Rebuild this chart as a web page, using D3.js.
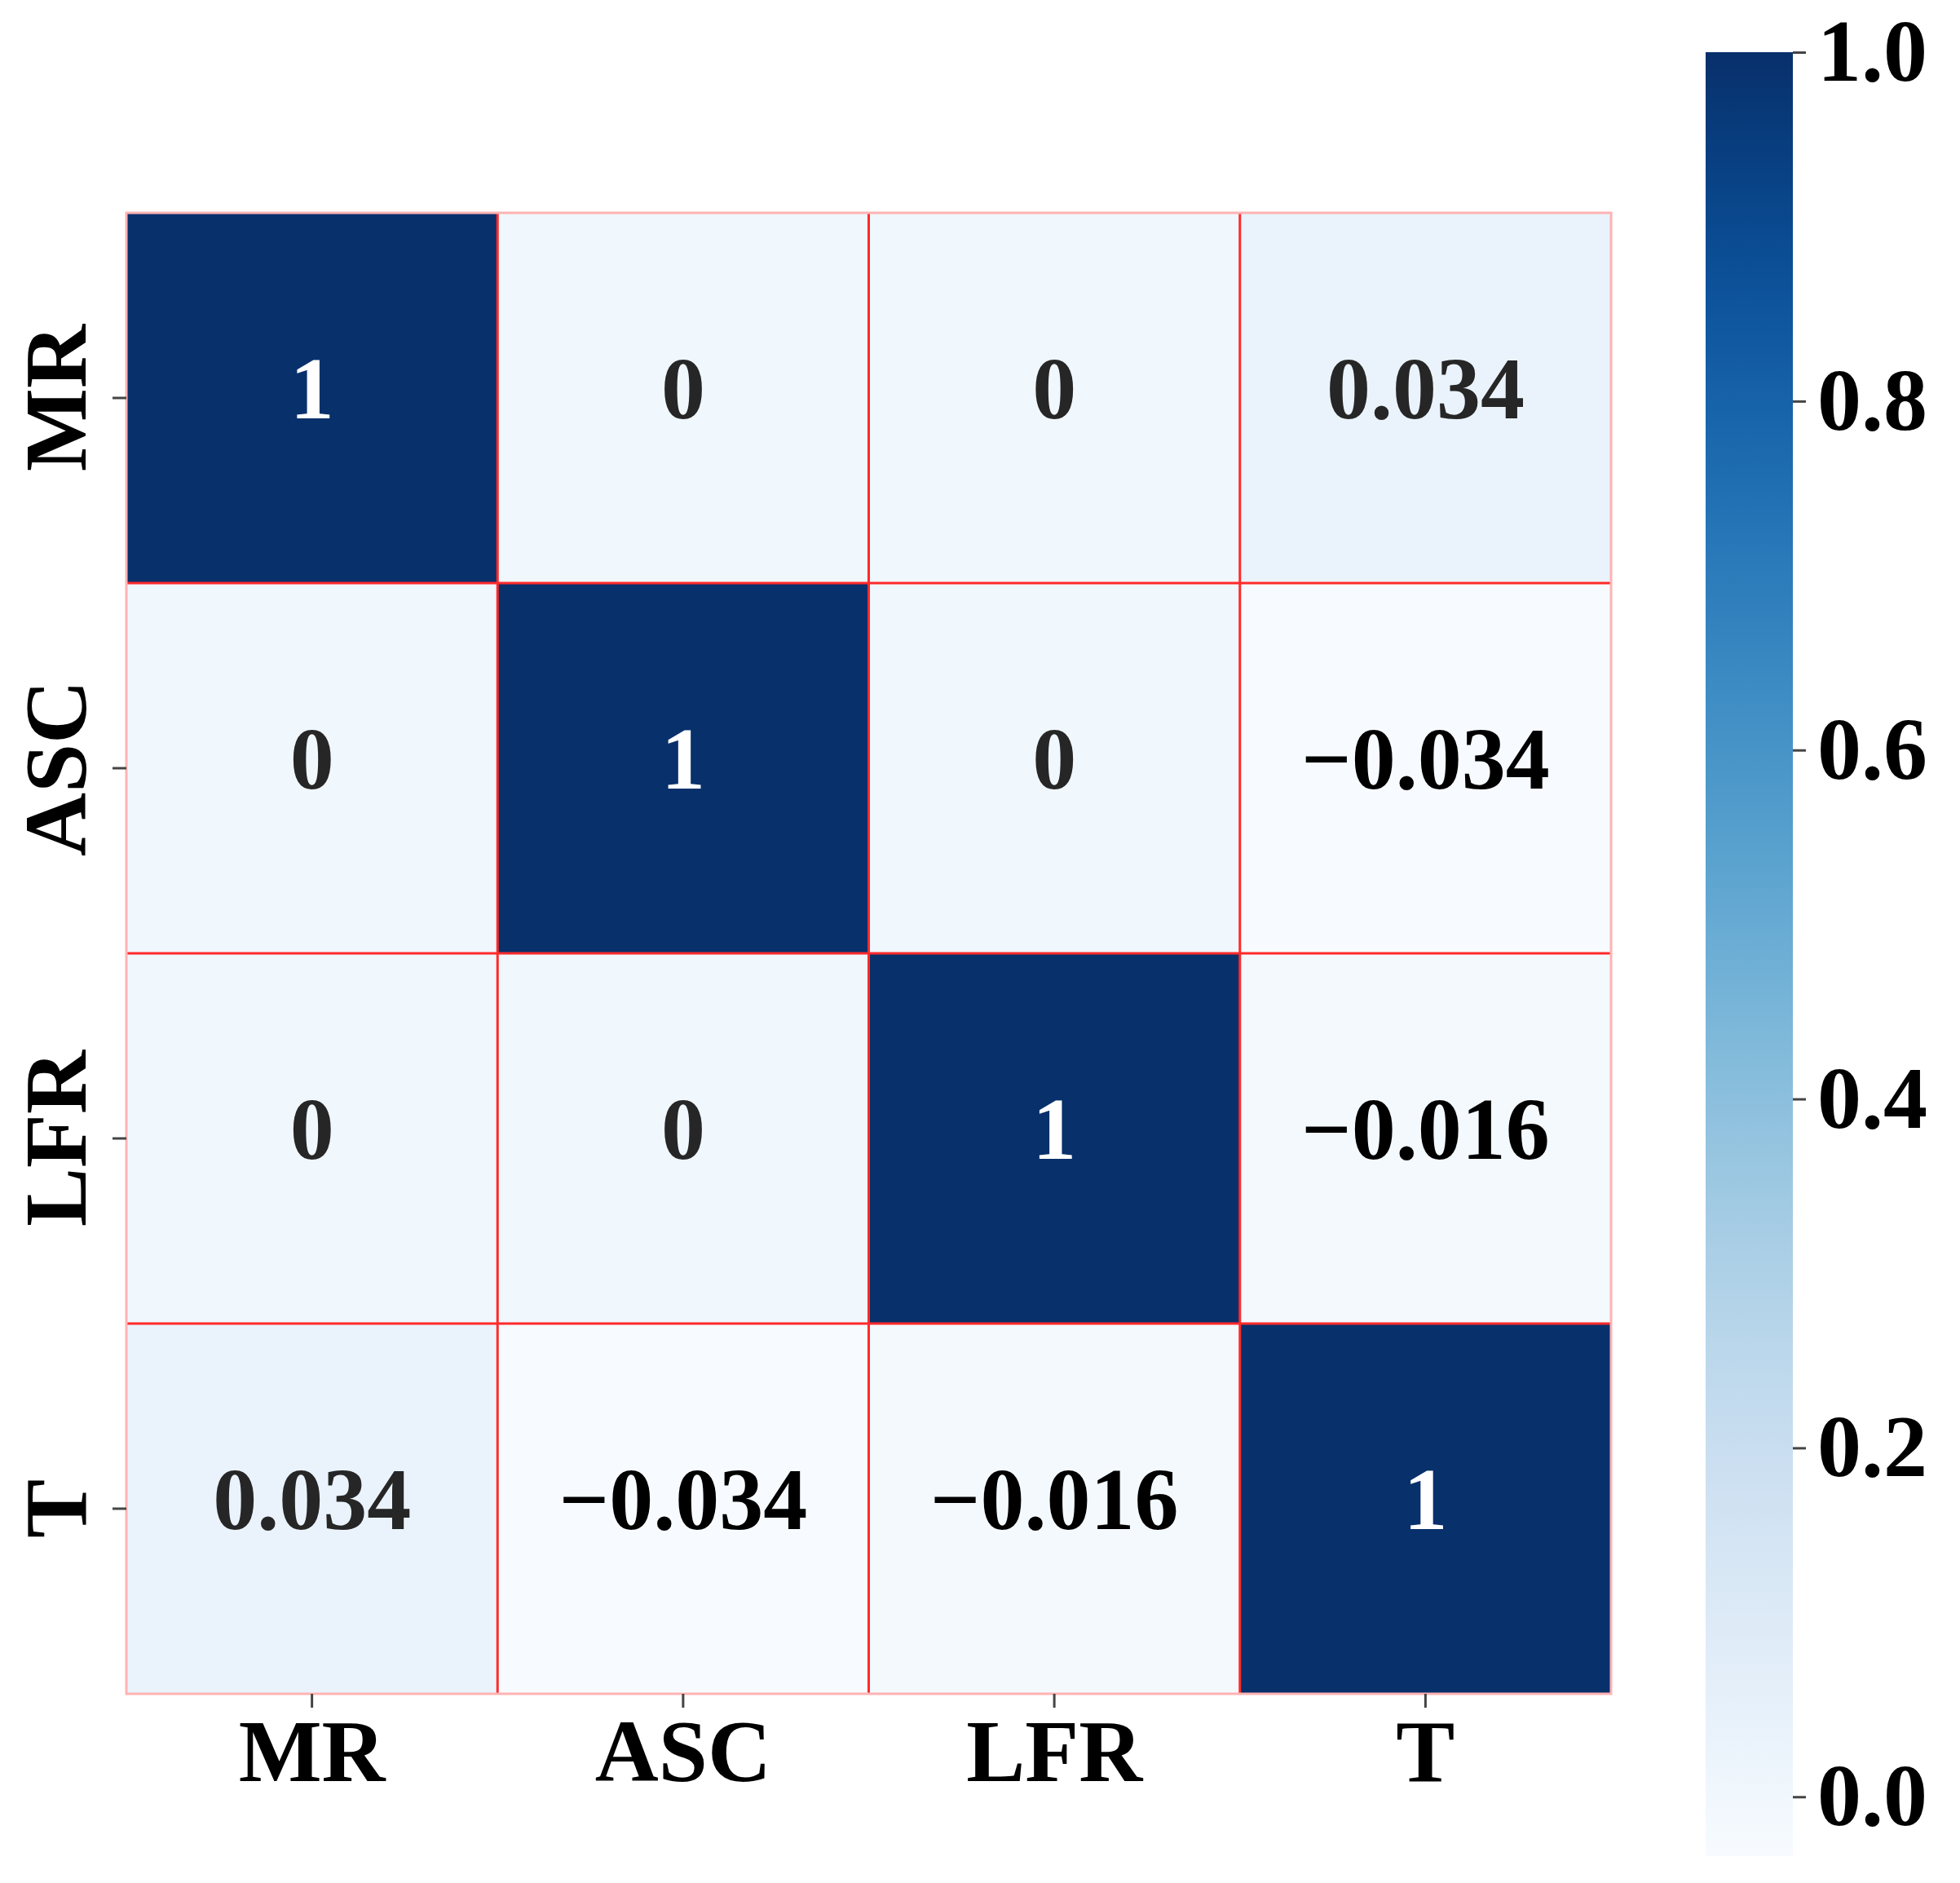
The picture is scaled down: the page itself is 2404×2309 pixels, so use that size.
<!DOCTYPE html>
<html>
<head>
<meta charset="utf-8">
<script src="https://cdn.jsdelivr.net/npm/d3@7/dist/d3.min.js"></script>
<style>
  html, body { margin: 0; padding: 0; background: #ffffff; }
  svg { display: block; }
  text { font-family: "Liberation Serif", "Times New Roman", serif; font-weight: bold; }
</style>
</head>
<body>
<svg id="chart" width="2404" height="2309"></svg>
<script>
// ---- data ----
const categories = ["MR", "ASC", "LFR", "T"];
const matrixValues = [
  [1, 0, 0, 0.034],
  [0, 1, 0, -0.034],
  [0, 0, 1, -0.016],
  [0.034, -0.034, -0.016, 1]
];
const annotationLabels = [
  ["1", "0", "0", "0.034"],
  ["0", "1", "0", "\u22120.034"],
  ["0", "0", "1", "\u22120.016"],
  ["0.034", "\u22120.034", "\u22120.016", "1"]
];
const colorDomain = [-0.034, 1];
const colorbarTicks = [0.0, 0.2, 0.4, 0.6, 0.8, 1.0];

// ---- layout ----
const grid = { left: 155, right: 1976, top: 261, bottom: 2077 };
const cbar = { left: 2092, right: 2199, top: 64, bottom: 2276 };
const fontSize = 108;

const svg = d3.select("#chart");

const x = d3.scaleBand().domain(categories).range([grid.left, grid.right]);
const y = d3.scaleBand().domain(categories).range([grid.top, grid.bottom]);
const color = d3.scaleSequential(d3.interpolateBlues).domain(colorDomain);

const cells = [];
matrixValues.forEach((row, i) => row.forEach((v, j) => {
  cells.push({ r: categories[i], c: categories[j], v: v, label: annotationLabels[i][j] });
}));

// cells
svg.append("g").selectAll("rect").data(cells).join("rect")
  .attr("x", d => x(d.c))
  .attr("y", d => y(d.r))
  .attr("width", x.bandwidth())
  .attr("height", y.bandwidth())
  .attr("fill", d => color(d.v));

// interior red grid lines
const gl = svg.append("g").attr("stroke", "#ff2a2a").attr("stroke-width", 3);
categories.slice(1).forEach(c => {
  gl.append("line").attr("x1", x(c)).attr("x2", x(c)).attr("y1", grid.top).attr("y2", grid.bottom);
  gl.append("line").attr("y1", y(c)).attr("y2", y(c)).attr("x1", grid.left).attr("x2", grid.right);
});
// outer border (lighter)
svg.append("rect")
  .attr("x", grid.left).attr("y", grid.top)
  .attr("width", grid.right - grid.left).attr("height", grid.bottom - grid.top)
  .attr("fill", "none").attr("stroke", "#ffb3b3").attr("stroke-width", 3);

// annotations
svg.append("g").selectAll("text").data(cells).join("text")
  .attr("x", d => x(d.c) + x.bandwidth() / 2)
  .attr("y", d => y(d.r) + y.bandwidth() / 2)
  .attr("dy", "0.23em")
  .attr("text-anchor", "middle")
  .attr("font-size", fontSize)
  .attr("fill", d => d.v >= 0.5 ? "#ffffff" : (d.v < 0 ? "#000000" : "#262626"))
  .text(d => d.label);

// x axis
const xAxis = svg.append("g").attr("transform", `translate(0,${grid.bottom})`)
  .call(d3.axisBottom(x).tickSize(17).tickPadding(13));
xAxis.select(".domain").remove();
xAxis.selectAll(".tick line").attr("stroke", "#444").attr("stroke-width", 3);
xAxis.selectAll(".tick text").attr("font-size", fontSize).attr("fill", "#000")
  .attr("font-family", "Liberation Serif").attr("font-weight", "bold");

// y axis
const yAxis = svg.append("g").attr("transform", `translate(${grid.left},0)`)
  .call(d3.axisLeft(y).tickSize(17).tickPadding(0));
yAxis.select(".domain").remove();
yAxis.selectAll(".tick line").attr("stroke", "#444").attr("stroke-width", 3);
yAxis.selectAll(".tick text")
  .attr("font-size", fontSize).attr("fill", "#000")
  .attr("font-family", "Liberation Serif").attr("font-weight", "bold")
  .attr("text-anchor", "middle")
  .attr("x", 0).attr("dy", 0)
  .attr("transform", "translate(-50,0) rotate(-90)");

// colorbar
const cy = d3.scaleLinear().domain(colorDomain).range([cbar.bottom, cbar.top]);
const defs = svg.append("defs");
const grad = defs.append("linearGradient").attr("id", "cbgrad")
  .attr("x1", "0").attr("y1", "1").attr("x2", "0").attr("y2", "0");
d3.range(0, 1.0001, 0.05).forEach(t => {
  grad.append("stop").attr("offset", t)
    .attr("stop-color", color(colorDomain[0] + t * (colorDomain[1] - colorDomain[0])));
});
svg.append("rect")
  .attr("x", cbar.left).attr("y", cbar.top)
  .attr("width", cbar.right - cbar.left).attr("height", cbar.bottom - cbar.top)
  .attr("fill", "url(#cbgrad)");

const cAxis = svg.append("g").attr("transform", `translate(${cbar.right},0)`)
  .call(d3.axisRight(cy).tickValues(colorbarTicks).tickFormat(d3.format(".1f")).tickSize(16).tickPadding(14));
cAxis.select(".domain").remove();
cAxis.selectAll(".tick line").attr("stroke", "#444").attr("stroke-width", 3);
cAxis.selectAll(".tick text").attr("font-size", fontSize).attr("fill", "#000")
  .attr("font-family", "Liberation Serif").attr("font-weight", "bold");
</script>
</body>
</html>
